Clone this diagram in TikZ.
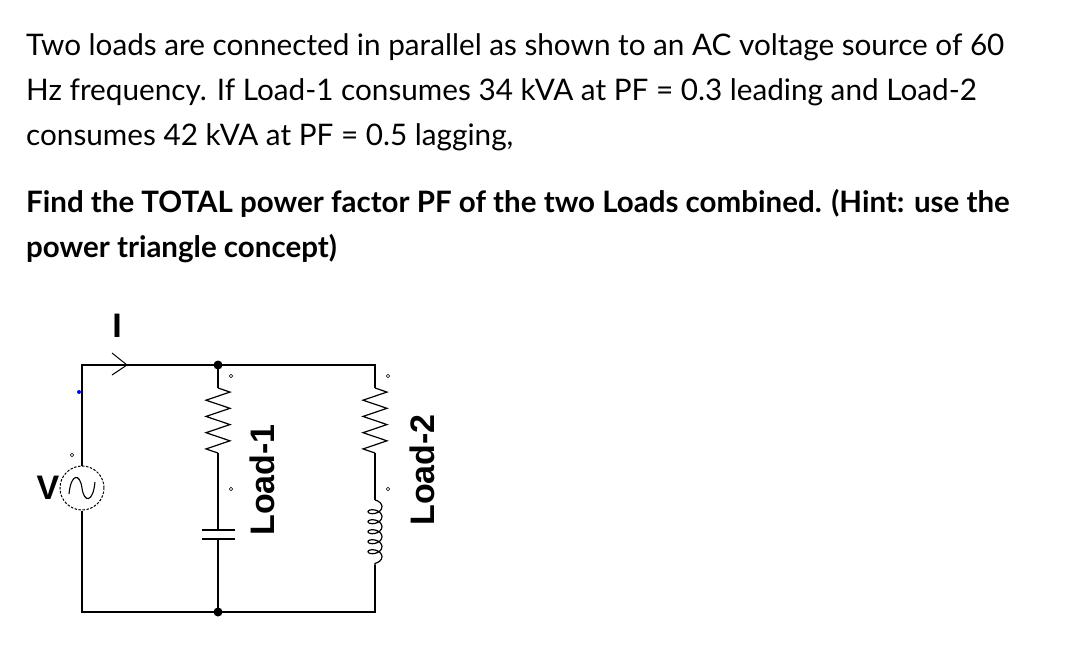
\documentclass[tikz,border=0pt]{standalone}
\usepackage{fontspec}
\setmainfont{Lato}
\newfontfamily\arialf{Liberation Sans}
\usetikzlibrary{decorations.pathmorphing}
\begin{document}
\begin{tikzpicture}[x=1pt,y=-1pt,
  txt/.style={anchor=base west,inner sep=0,font=\fontsize{29.7}{34}\selectfont},
  btxt/.style={txt,font=\fontsize{29.5}{34}\selectfont\bfseries},
  lbl/.style={inner sep=0,font=\fontsize{34}{38}\selectfont\arialf\bfseries},
  wire/.style={line width=1.2pt},
  junc/.style={circle,fill,inner sep=0,minimum size=9pt},
  pin/.style={circle,draw,inner sep=0,minimum size=3.5pt,line width=0.5pt}]
\useasboundingbox (0,0) rectangle (1071,656);
\node[txt] (l1) at (26,55) {Two loads are connected in parallel as shown to an AC voltage source of 60};
\node[txt] (l2) at (26,100) {Hz frequency. If Load-1 consumes 34 kVA at PF = 0.3 leading and Load-2};
\node[txt] (l3) at (26,145) {consumes 42 kVA at PF = 0.5 lagging,};
\node[btxt] (l4) at (26,212) {Find the TOTAL power factor PF of the two Loads combined. (Hint: use the};
\node[btxt] (l5) at (26,257) {power triangle concept)};
\coordinate (tl) at (82,365); \coordinate (bl) at (82,612);
\coordinate (tm) at (218,365); \coordinate (bm) at (218,612);
\coordinate (tr) at (375,365); \coordinate (br) at (375,612);
\node[circle,draw,dash pattern=on 2.5pt off 1.5pt,minimum size=44pt,inner sep=0,line width=1pt] (src) at (82,488) {};
\draw[line width=1.1pt] (69,494) .. controls (71,473) and (80,473) .. (82,488) .. controls (84,503) and (93,503) .. (95,482);
\draw[wire] (src.north) -- (tl) -- (tr) -- (375,388);
\draw[wire] (src.south) -- (bl) -- (br) -- (375,565);
\draw[wire] (tm) -- (218,388);
\draw[wire,decoration={zigzag,segment length=16.25pt,amplitude=12pt},decorate] (218,388) -- (218,453);
\draw[wire] (218,453) -- (218,530);
\draw[wire] (202,530) -- (235,530);
\draw[wire] (202,539) -- (235,539);
\draw[wire] (218,539) -- (bm);
\draw[wire,decoration={zigzag,segment length=16.25pt,amplitude=12pt},decorate] (375,388) -- (375,453);
\draw[wire] (375,453) -- (375,500);
\draw[wire,decoration={coil,aspect=0.6,segment length=10pt,amplitude=7pt},decorate] (375,500) -- (375,565);
\node[junc] (j1) at (tm) {};
\node[junc] (j2) at (bm) {};
\node[pin] (p1) at (231,376) {}; \node[pin] (p2) at (231,489) {};
\node[pin] (p3) at (388,376) {}; \node[pin] (p4) at (388,489) {};
\node[pin] (p5) at (72,455) {};
\node[circle,fill=blue,inner sep=0,minimum size=4pt] (bd) at (79,392) {};
\draw[line width=1pt] (112,353) -- (127,365) -- (112,375);
\node[lbl] (I) at (117,326) {I};
\node[lbl] (V) at (48,488) {V};
\node[lbl,rotate=90] (L1) at (262,480) {Load-1};
\node[lbl,rotate=90] (L2) at (422,470) {Load-2};
\end{tikzpicture}
\end{document}
